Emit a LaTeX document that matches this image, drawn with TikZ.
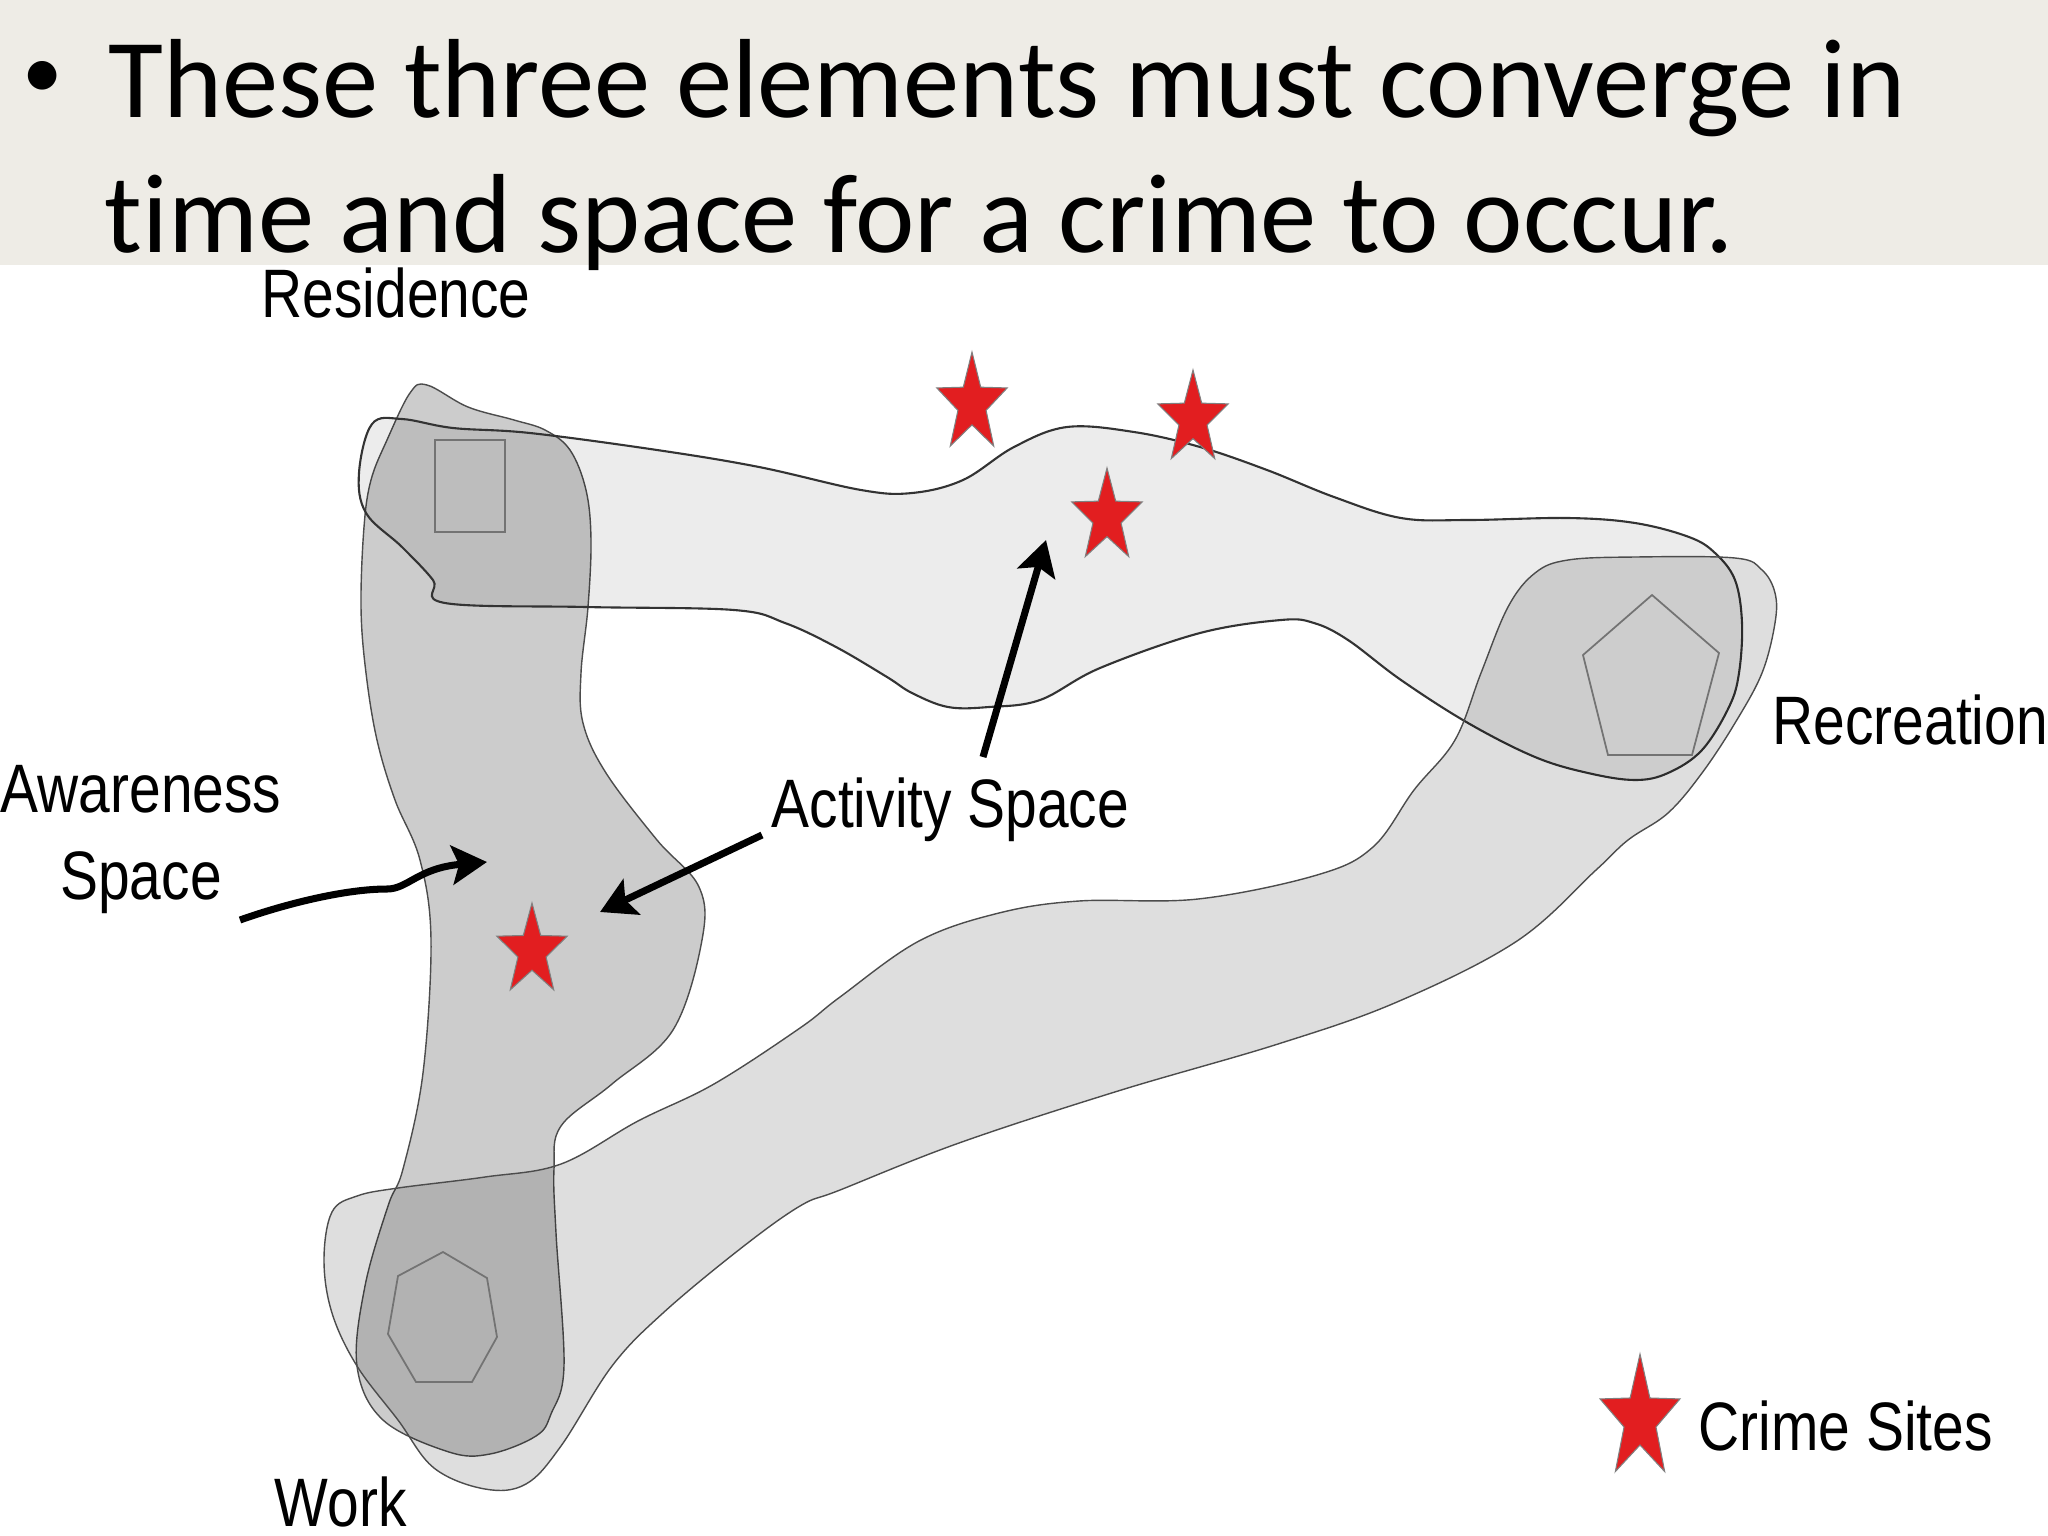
\documentclass[tikz,border=0pt]{standalone}
\usepackage{fontspec}
\setmainfont{Carlito}[Ligatures=CommonOff]
\newfontfamily\labelfont[FakeStretch=0.83]{Liberation Sans}
\usetikzlibrary{arrows.meta}
\definecolor{bandgrey}{RGB}{238,236,230}
\definecolor{crimered}{RGB}{226,30,32}

\begin{document}
\begin{tikzpicture}[x=0.01cm, y=-0.01cm,
    headline/.style={font=\fontsize{32}{38}\selectfont, inner sep=0pt, anchor=base west},
    place/.style={font=\labelfont\fontsize{19.5}{24.7}\selectfont, inner sep=0pt, anchor=base west},
    region/.style={fill=black, fill opacity=#1},
    rim/.style={draw=black!70, line width=0.4pt},
    landmark/.style={draw=black!55, line width=0.5pt},
    pointer/.style={-{Stealth[length=3.5mm,width=3.9mm,inset=0.7mm]}, line width=2pt},
    star look/.style={fill=crimered, draw=black!50, line width=0.3pt},
    pics/crimestar/.style={code={
      \draw[star look] (-90:1) \foreach \a in {-18,54,126,198}{ -- ({\a-36}:0.4) -- (\a:1)} -- (234:0.4) -- cycle;
    }}]

\useasboundingbox (0,0) rectangle (2048,1536);
\clip (0,0) rectangle (2048,1536);

\fill[bandgrey] (0,0) rectangle (2048,265);
\node[headline, font=\fontsize{23}{28}\selectfont] (bullet) at (22,98) {•};
\node[headline] (line1) at (108,117) {These three elements must converge in};
\node[headline] (line2) at (104,252) {time and space for a crime to occur.};

% awareness space
\path[region=0.2, rim] plot[smooth cycle, tension=0.6] coordinates {
  (427,385) (468,407) (514,420) (545,430) (570,450) (586,490) (591,540) (588,607)
  (581,673) (583,723) (606,773) (657,840) (699,887) (702,940) (673,1030) (612,1084)
  (561,1126) (554,1169) (556,1233) (564,1366) (551,1414) (536,1436) (490,1454)
  (449,1452) (383,1420) (357,1366) (365,1286) (388,1206) (403,1169) (423,1073)
  (431,940) (420,860) (395,800) (377,740) (366,673) (361,607) (364,527) (371,480)
  (387,440) (410,393)};

% activity space: residence to recreation
\path[region=0.075, rim, line width=0.6pt, draw=black!80] plot[smooth cycle, tension=0.6] coordinates {
  (372,424) (402,419) (453,428) (530,433) (657,450) (759,467) (861,490) (912,493)
  (963,480) (1014,447) (1067,427) (1134,432) (1200,447) (1267,470) (1334,497)
  (1401,518) (1468,520) (1568,518) (1635,523) (1689,537) (1715,553) (1735,580)
  (1742,623) (1739,673) (1729,707) (1702,750) (1668,773) (1635,780) (1588,773)
  (1535,757) (1468,723) (1401,680) (1348,640) (1314,623) (1281,620) (1200,633)
  (1100,668) (1040,700) (989,707) (948,707) (912,693) (887,677) (836,647) (785,623)
  (734,610) (586,607) (445,603) (433,580) (402,547) (366,513) (359,473)};

% activity space: recreation to work
\path[region=0.13, rim] plot[smooth cycle, tension=0.6] coordinates {
  (1568,560) (1535,573) (1508,607) (1481,673) (1455,740) (1414,790) (1373,847)
  (1317,875) (1198,899) (1079,901) (999,913) (919,941) (840,997) (800,1028)
  (714,1084) (638,1121) (561,1164) (485,1177) (398,1188) (357,1196) (332,1212)
  (324,1260) (332,1313) (357,1366) (398,1420) (434,1468) (485,1489) (526,1484)
  (561,1446) (612,1366) (663,1313) (740,1249) (800,1206) (840,1190) (959,1143)
  (1118,1091) (1278,1044) (1397,1002) (1517,941) (1596,870) (1628,840) (1668,813)
  (1702,773) (1735,723) (1762,673) (1775,623) (1775,593) (1762,570) (1735,558)
  (1635,557)};

\draw[landmark] (435,440) rectangle (505,532);
\draw[landmark] (1652,595) -- (1719,653) -- (1692,755) -- (1608,755) -- (1583,655) -- cycle;
\draw[landmark] (443,1252) -- (487,1278) -- (497,1337) -- (472,1382) -- (416,1382)
  -- (388,1334) -- (398,1276) -- cycle;

\pic[xscale=37, yscale=52] at (972,404) {crimestar};
\pic[xscale=37, yscale=49] at (1193,419) {crimestar};
\pic[xscale=37, yscale=49] at (1107,517) {crimestar};
\pic[xscale=37, yscale=48] at (532,951) {crimestar};
\pic[xscale=42, yscale=65] at (1640,1419) {crimestar};

\node[place] (residence) at (261,317) {Residence};
\node[place] (recreation) at (1772,744) {Recreation};
\node[place] (work) at (274,1526) {Work};
\node[place] (legend) at (1698,1450) {Crime Sites};
\node[place] (activity) at (771,827) {Activity Space};
\node[place, anchor=base, align=center] (awareness) at (141,899) {Awareness\\Space};

\coordinate (actup) at (1046,540);
\coordinate (actleft) at (600,912);
\coordinate (awtip) at (487,862);

\draw[pointer] ([shift={(212,-70)}]activity.base west) -- (actup);
\draw[pointer] ([shift={(-9,8)}]activity.base west) -- (actleft);
\draw[pointer] ([shift={(99,21)}]awareness.base) .. controls (285,904) and (345,889) .. (387,889)
  .. controls (408,889) and (418,868) .. (awtip);

\end{tikzpicture}
\end{document}
